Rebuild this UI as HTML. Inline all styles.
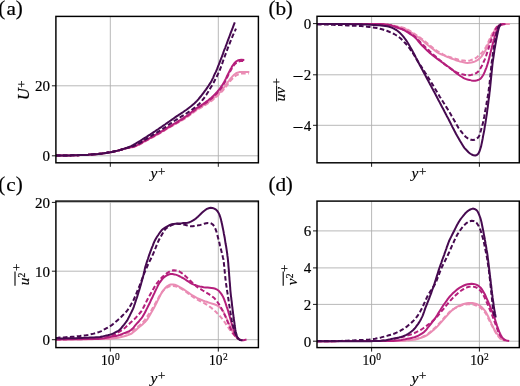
<!DOCTYPE html>
<html><head><meta charset="utf-8"><title>Profiles</title>
<style>
html,body{margin:0;padding:0;background:#fff;}
body{width:520px;height:386px;overflow:hidden;}
svg{display:block;filter:blur(0.3px);}
text{font-family:"Liberation Serif","DejaVu Serif",serif;fill:#000;stroke:#000;stroke-width:0.18px;}
</style></head><body>
<svg width="520" height="386" viewBox="0 0 520 386">
<rect x="0" y="0" width="520" height="386" fill="#fff"/>

<clipPath id="clipa"><rect x="55.9" y="16.4" width="202.5" height="146.4"/></clipPath>
<g stroke="#b0b0b0" stroke-width="0.9"><line x1="110.3" y1="16.4" x2="110.3" y2="162.8"/><line x1="218.3" y1="16.4" x2="218.3" y2="162.8"/><line x1="55.9" y1="155.8" x2="258.4" y2="155.8"/><line x1="55.9" y1="85.8" x2="258.4" y2="85.8"/></g>
<g clip-path="url(#clipa)" fill="none" stroke-width="2.0" stroke-linejoin="round"><path d="M55.9,155.6 57.9,155.6 59.9,155.5 62.0,155.5 64.0,155.5 66.0,155.4 68.0,155.4 70.0,155.4 72.0,155.3 74.1,155.3 76.1,155.2 78.1,155.2 80.1,155.1 82.1,155.0 84.1,154.9 86.2,154.9 88.2,154.8 90.2,154.6 92.2,154.5 94.2,154.3 96.2,154.1 98.2,153.9 100.2,153.7 102.2,153.5 104.2,153.2 106.2,152.9 108.2,152.6 110.2,152.2 112.2,151.9 114.2,151.5 116.1,151.0 118.1,150.6 120.0,150.0 122.0,149.5 123.9,148.9 125.9,148.3 127.8,147.9 129.8,147.5 131.8,147.2 133.7,146.7 135.6,146.1 137.4,145.3 139.2,144.4 141.0,143.4 142.8,142.5 144.5,141.5 146.3,140.5 148.0,139.5 149.8,138.5 151.6,137.5 153.3,136.5 155.1,135.6 156.9,134.6 158.6,133.6 160.4,132.6 162.1,131.5 163.8,130.5 165.5,129.4 167.3,128.4 169.0,127.4 170.8,126.4 172.5,125.4 174.3,124.4 176.0,123.4 177.8,122.3 179.5,121.3 181.2,120.3 182.9,119.2 184.6,118.1 186.3,117.0 188.0,115.9 189.6,114.7 191.2,113.5 192.8,112.2 194.4,111.0 196.1,109.8 197.8,108.8 199.5,107.7 201.2,106.7 203.0,105.7 204.7,104.7 206.4,103.5 208.0,102.4 209.7,101.3 211.3,100.1 212.9,98.8 214.4,97.5 215.9,96.2 217.4,94.8 218.9,93.4 220.3,91.9 221.6,90.4 222.8,88.9 224.1,87.3 225.3,85.6 226.4,84.0 227.6,82.4 228.9,80.8 230.1,79.2 231.4,77.6 232.7,76.1 234.1,74.7 235.7,73.5 237.4,72.7 239.3,72.1 241.3,71.9 243.3,71.9 245.3,71.9 247.3,72.0 249.3,72.1" stroke="#ea8cb4"/><path d="M55.9,155.6 57.9,155.6 59.9,155.5 61.9,155.5 63.9,155.5 65.9,155.4 68.0,155.4 70.0,155.4 72.0,155.3 74.0,155.3 76.0,155.2 78.0,155.2 80.0,155.1 82.0,155.0 84.0,154.9 86.0,154.9 88.0,154.8 90.1,154.6 92.1,154.5 94.1,154.3 96.1,154.2 98.1,154.0 100.1,153.7 102.1,153.5 104.0,153.2 106.0,152.9 108.0,152.6 110.0,152.3 112.0,151.9 113.9,151.5 115.9,151.1 117.9,150.6 119.8,150.1 121.7,149.5 123.7,149.0 125.6,148.4 127.5,148.0 129.5,147.6 131.5,147.3 133.4,146.9 135.3,146.3 137.2,145.6 139.0,144.8 140.8,143.8 142.5,142.9 144.3,141.9 146.1,140.9 147.8,139.9 149.6,139.0 151.3,138.0 153.1,137.1 154.9,136.1 156.6,135.1 158.4,134.1 160.1,133.1 161.9,132.1 163.6,131.1 165.3,130.0 167.0,129.0 168.8,128.0 170.5,127.0 172.3,126.0 174.0,125.0 175.7,124.0 177.5,123.0 179.2,122.0 181.0,121.0 182.7,119.9 184.4,118.9 186.1,117.8 187.7,116.7 189.4,115.5 191.0,114.3 192.6,113.1 194.2,111.9 195.8,110.7 197.5,109.6 199.2,108.6 201.0,107.6 202.7,106.6 204.5,105.6 206.2,104.5 207.8,103.4 209.5,102.3 211.1,101.1 212.7,99.9 214.3,98.7 215.8,97.3 217.3,96.0 218.8,94.6 220.2,93.3 221.6,91.8 223.0,90.3 224.3,88.8 225.5,87.2 226.8,85.6 228.0,84.0 229.2,82.4 230.4,80.9 231.8,79.4 233.1,77.9 234.6,76.6 236.2,75.4 238.0,74.6 239.8,74.0 241.8,73.6 243.8,73.4 245.8,73.4 248.8,73.4" stroke="#ea8cb4" stroke-dasharray="4.6 2.4"/><path d="M55.9,155.6 57.9,155.6 59.9,155.5 61.9,155.5 63.9,155.5 65.9,155.4 68.0,155.4 70.0,155.4 72.0,155.3 74.0,155.3 76.0,155.2 78.0,155.2 80.0,155.1 82.0,155.0 84.0,154.9 86.0,154.9 88.0,154.8 90.0,154.6 92.0,154.5 94.0,154.3 96.0,154.2 98.0,154.0 100.0,153.7 102.0,153.5 104.0,153.2 106.0,152.9 108.0,152.6 110.0,152.3 112.0,151.9 113.9,151.5 115.9,151.1 117.8,150.6 119.8,150.1 121.7,149.5 123.6,149.0 125.6,148.4 127.5,147.9 129.5,147.5 131.4,147.1 133.3,146.6 135.2,145.9 137.1,145.1 138.8,144.2 140.6,143.3 142.3,142.2 144.1,141.2 145.8,140.2 147.6,139.2 149.3,138.3 151.1,137.3 152.8,136.3 154.6,135.3 156.3,134.3 158.1,133.4 159.8,132.3 161.5,131.3 163.3,130.3 165.0,129.2 166.7,128.2 168.4,127.2 170.1,126.1 171.9,125.1 173.6,124.0 175.3,123.0 177.0,122.0 178.7,120.9 180.5,119.9 182.2,118.8 183.8,117.7 185.5,116.6 187.2,115.5 188.8,114.3 190.4,113.0 191.9,111.8 193.5,110.5 195.1,109.3 196.7,108.1 198.4,107.0 200.1,105.9 201.8,104.8 203.4,103.8 205.1,102.6 206.7,101.4 208.3,100.2 209.9,98.9 211.4,97.7 212.9,96.3 214.3,94.9 215.7,93.5 217.1,92.0 218.4,90.5 219.7,88.9 220.8,87.3 222.0,85.6 223.0,83.9 224.0,82.2 225.0,80.4 225.9,78.6 226.7,76.8 227.6,75.0 228.5,73.2 229.4,71.4 230.3,69.6 231.3,67.9 232.3,66.1 233.4,64.5 234.6,62.9 236.0,61.6 237.7,60.5 239.5,59.9 241.4,59.7 244.3,59.9" stroke="#b51f7c"/><path d="M55.9,155.6 57.9,155.6 59.9,155.5 61.9,155.5 63.9,155.5 66.0,155.4 68.0,155.4 70.0,155.4 72.0,155.3 74.0,155.3 76.0,155.2 78.0,155.2 80.0,155.1 82.0,155.0 84.0,154.9 86.1,154.9 88.1,154.8 90.1,154.6 92.1,154.5 94.1,154.3 96.1,154.1 98.1,154.0 100.1,153.7 102.1,153.5 104.1,153.2 106.1,152.9 108.0,152.6 110.0,152.3 112.0,151.9 114.0,151.5 115.9,151.1 117.9,150.6 119.8,150.1 121.8,149.5 123.7,148.9 125.6,148.4 127.6,147.9 129.5,147.5 131.5,147.2 133.4,146.7 135.3,146.0 137.2,145.3 139.0,144.4 140.7,143.4 142.5,142.4 144.2,141.4 146.0,140.4 147.7,139.5 149.5,138.5 151.2,137.5 153.0,136.5 154.8,135.6 156.5,134.6 158.3,133.6 160.0,132.6 161.8,131.6 163.5,130.6 165.2,129.5 166.9,128.5 168.6,127.4 170.4,126.4 172.1,125.4 173.8,124.4 175.6,123.4 177.3,122.4 179.0,121.3 180.8,120.3 182.5,119.2 184.2,118.2 185.9,117.1 187.5,115.9 189.1,114.7 190.7,113.5 192.3,112.2 193.8,111.0 195.5,109.8 197.1,108.6 198.8,107.5 200.5,106.5 202.2,105.4 203.9,104.3 205.5,103.2 207.2,102.0 208.7,100.8 210.3,99.5 211.9,98.2 213.4,96.9 214.8,95.5 216.2,94.1 217.6,92.6 218.9,91.1 220.2,89.5 221.3,87.9 222.5,86.2 223.5,84.5 224.5,82.8 225.4,81.0 226.3,79.2 227.2,77.4 228.0,75.6 228.9,73.8 229.8,72.0 230.8,70.2 231.8,68.4 232.8,66.7 234.0,65.1 235.3,63.6 236.8,62.4 238.5,61.5 240.4,61.0 242.3,60.9 244.3,61.0" stroke="#b51f7c" stroke-dasharray="4.6 2.4"/><path d="M55.9,155.6 57.9,155.6 59.9,155.5 61.9,155.5 63.9,155.5 65.9,155.4 68.0,155.4 70.0,155.4 72.0,155.3 74.0,155.3 76.0,155.2 78.0,155.2 80.0,155.1 82.0,155.0 84.0,154.9 86.0,154.9 88.0,154.8 90.1,154.6 92.1,154.5 94.1,154.3 96.1,154.2 98.1,154.0 100.1,153.7 102.1,153.5 104.0,153.2 106.0,152.9 108.0,152.6 110.0,152.3 112.0,151.9 113.9,151.5 115.9,151.1 117.9,150.6 119.8,150.1 121.7,149.5 123.6,148.9 125.6,148.4 127.5,147.8 129.4,147.2 131.4,146.7 133.3,146.1 135.1,145.3 137.0,144.5 138.7,143.6 140.5,142.6 142.2,141.6 143.9,140.5 145.6,139.4 147.3,138.4 149.0,137.3 150.7,136.3 152.5,135.2 154.2,134.2 155.9,133.2 157.6,132.1 159.3,131.0 161.0,130.0 162.7,128.9 164.4,127.7 166.0,126.6 167.7,125.5 169.3,124.3 171.0,123.2 172.6,122.0 174.3,120.9 176.0,119.9 177.7,118.8 179.4,117.7 181.1,116.7 182.9,115.6 184.6,114.6 186.3,113.5 188.0,112.4 189.6,111.3 191.3,110.2 192.9,109.0 194.5,107.8 196.1,106.6 197.6,105.3 199.1,103.9 200.5,102.5 201.8,101.0 203.0,99.4 204.2,97.8 205.4,96.1 206.5,94.5 207.6,92.8 208.7,91.1 209.7,89.3 210.7,87.6 211.7,85.9 212.7,84.1 213.7,82.4 214.7,80.6 215.6,78.8 216.5,77.1 217.4,75.3 218.3,73.4 219.2,71.6 219.9,69.8 220.6,67.9 221.3,66.0 222.0,64.1 222.7,62.2 223.3,60.3 224.0,58.4 224.7,56.5 225.4,54.6 226.1,52.8 226.8,50.9 227.5,49.0 228.2,47.1 228.9,45.2 229.7,43.4 230.4,41.5 231.2,39.6 231.9,37.8 232.7,35.9 233.5,34.1 234.3,32.3 235.2,30.4 236.0,28.6" stroke="#460a50" stroke-dasharray="4.6 2.4"/><path d="M55.9,155.6 57.9,155.6 59.9,155.5 61.9,155.5 63.9,155.5 65.9,155.4 68.0,155.4 70.0,155.4 72.0,155.3 74.0,155.3 76.0,155.2 78.0,155.2 80.0,155.1 82.0,155.0 84.0,154.9 86.0,154.9 88.0,154.8 90.0,154.6 92.0,154.5 94.0,154.3 96.1,154.2 98.1,154.0 100.0,153.7 102.0,153.5 104.0,153.2 106.0,152.9 108.0,152.6 110.0,152.3 112.0,151.9 113.9,151.5 115.9,151.1 117.8,150.6 119.8,150.1 121.7,149.5 123.6,148.9 125.5,148.3 127.4,147.6 129.3,146.9 131.1,146.1 132.9,145.2 134.7,144.2 136.4,143.2 138.1,142.1 139.8,141.1 141.5,140.0 143.2,138.9 144.9,137.8 146.6,136.8 148.3,135.7 150.0,134.6 151.6,133.5 153.3,132.4 155.0,131.3 156.7,130.1 158.4,129.0 160.0,127.9 161.7,126.8 163.3,125.6 165.0,124.5 166.6,123.3 168.3,122.2 169.9,121.0 171.6,119.9 173.2,118.7 174.8,117.6 176.5,116.4 178.2,115.3 179.9,114.2 181.5,113.1 183.2,112.0 184.9,110.8 186.5,109.7 188.1,108.5 189.7,107.3 191.3,106.0 192.8,104.7 194.3,103.4 195.8,102.0 197.2,100.6 198.5,99.1 199.8,97.5 201.1,96.0 202.3,94.4 203.5,92.8 204.7,91.2 205.9,89.6 207.1,87.9 208.2,86.3 209.3,84.6 210.4,82.9 211.4,81.2 212.3,79.4 213.2,77.6 214.0,75.7 214.8,73.9 215.7,72.1 216.5,70.3 217.3,68.4 218.0,66.5 218.8,64.7 219.5,62.8 220.2,60.9 220.9,59.1 221.7,57.2 222.4,55.3 223.1,53.4 223.7,51.5 224.4,49.6 225.2,47.8 225.9,45.9 226.6,44.0 227.3,42.1 228.0,40.2 228.7,38.3 229.4,36.5 230.1,34.6 230.8,32.7 231.5,30.8 232.3,29.0 233.0,27.1 233.7,25.2 234.8,22.4" stroke="#460a50"/></g>
<g stroke="#000" stroke-width="0.9"><line x1="110.3" y1="162.8" x2="110.3" y2="166.8"/><line x1="218.3" y1="162.8" x2="218.3" y2="166.8"/><line x1="51.9" y1="155.8" x2="55.9" y2="155.8"/><line x1="51.9" y1="85.8" x2="55.9" y2="85.8"/></g>
<rect x="55.9" y="16.4" width="202.5" height="146.4" fill="none" stroke="#000" stroke-width="1.45"/>
<clipPath id="clipb"><rect x="317.0" y="16.3" width="202.3" height="146.5"/></clipPath>
<g stroke="#b0b0b0" stroke-width="0.9"><line x1="371.6" y1="16.3" x2="371.6" y2="162.8"/><line x1="479.4" y1="16.3" x2="479.4" y2="162.8"/><line x1="317.0" y1="23.6" x2="519.3" y2="23.6"/><line x1="317.0" y1="74.8" x2="519.3" y2="74.8"/><line x1="317.0" y1="125.3" x2="519.3" y2="125.3"/></g>
<g clip-path="url(#clipb)" fill="none" stroke-width="2.0" stroke-linejoin="round"><path d="M317.0,24.0 319.0,24.0 321.0,24.0 323.0,24.0 325.0,24.0 327.1,24.0 329.1,24.0 331.1,24.0 333.1,24.0 335.1,24.0 337.1,24.0 339.1,24.0 341.1,24.0 343.1,24.0 345.1,24.0 347.2,24.0 349.2,24.0 351.2,24.0 353.2,24.0 355.2,24.0 357.2,24.0 359.2,24.0 361.2,24.0 363.2,24.0 365.3,24.0 367.3,24.0 369.3,24.0 371.3,24.0 373.3,24.0 375.3,24.0 377.3,24.0 379.3,24.0 381.3,24.2 383.3,24.4 385.3,24.6 387.3,24.8 389.3,25.0 391.3,25.4 393.3,25.8 395.2,26.3 397.2,26.8 399.1,27.3 401.1,27.7 403.0,28.3 404.9,28.8 406.7,29.6 408.4,30.7 410.1,31.8 411.8,32.9 413.4,34.0 415.1,35.2 416.8,36.3 418.4,37.4 420.1,38.6 421.7,39.8 423.2,41.1 424.7,42.4 426.2,43.7 427.8,45.0 429.4,46.2 430.9,47.5 432.5,48.7 434.1,49.9 435.7,51.2 437.3,52.4 439.0,53.3 440.9,54.2 442.7,54.9 444.6,55.7 446.4,56.5 448.3,57.2 450.2,58.0 452.0,58.7 453.9,59.4 455.8,60.2 457.7,60.8 459.6,61.4 461.6,61.8 463.5,62.3 465.5,62.7 467.5,62.9 469.4,62.8 471.4,62.5 473.4,62.1 475.2,61.4 476.9,60.4 478.6,59.3 480.1,58.0 481.4,56.6 482.6,54.9 483.7,53.3 484.8,51.6 485.7,49.8 486.6,48.0 487.4,46.1 488.2,44.3 489.0,42.5 489.8,40.6 490.6,38.8 491.4,36.9 492.3,35.1 493.2,33.3 494.1,31.5 495.1,29.8 496.2,28.1 497.5,26.6 499.0,25.4 500.7,24.5 502.6,24.1 504.6,24.0 506.6,24.0 509.6,24.0" stroke="#ea8cb4"/><path d="M317.0,24.0 319.0,24.0 321.0,24.0 323.0,24.0 325.0,24.0 327.1,24.0 329.1,24.0 331.1,24.0 333.1,24.0 335.1,24.0 337.1,24.0 339.1,24.0 341.1,24.0 343.1,24.0 345.2,24.0 347.2,24.0 349.2,24.0 351.2,24.0 353.2,24.0 355.2,24.0 357.2,24.0 359.2,24.0 361.3,24.0 363.3,24.0 365.3,24.0 367.3,24.0 369.3,24.0 371.3,24.0 373.3,24.0 375.3,24.0 377.3,24.0 379.4,24.0 381.4,24.1 383.4,24.3 385.4,24.5 387.4,24.7 389.4,24.9 391.4,25.2 393.3,25.5 395.3,25.9 397.3,26.4 399.2,26.8 401.2,27.2 403.2,27.7 405.1,28.2 406.9,29.0 408.6,30.0 410.3,31.1 412.0,32.2 413.7,33.3 415.3,34.4 417.0,35.5 418.7,36.7 420.4,37.8 422.0,39.0 423.6,40.2 425.1,41.5 426.7,42.8 428.2,44.1 429.8,45.3 431.3,46.6 432.9,47.9 434.4,49.2 436.1,50.3 437.8,51.4 439.5,52.4 441.3,53.3 443.0,54.3 444.8,55.3 446.6,56.1 448.5,56.7 450.4,57.3 452.4,57.9 454.3,58.5 456.2,59.0 458.2,59.5 460.1,59.9 462.1,60.3 464.1,60.6 466.1,60.9 468.0,60.8 470.0,60.4 471.9,59.8 473.8,59.2 475.5,58.2 477.1,57.0 478.6,55.7 480.2,54.4 481.6,53.0 482.8,51.5 484.0,49.8 485.1,48.2 486.2,46.5 487.1,44.7 488.0,42.9 488.8,41.0 489.6,39.2 490.5,37.4 491.3,35.6 492.2,33.8 493.2,32.0 494.2,30.3 495.4,28.6 496.6,27.1 498.1,25.8 499.7,24.8 501.6,24.2 503.6,24.0 505.6,24.0 507.6,24.0 509.6,24.0" stroke="#ea8cb4" stroke-dasharray="4.6 2.4"/><path d="M317.0,24.0 319.0,24.0 321.0,24.0 323.0,24.0 325.0,24.0 327.1,24.0 329.1,24.0 331.1,24.0 333.1,24.0 335.1,24.0 337.1,24.0 339.1,24.0 341.1,24.0 343.2,24.0 345.2,24.0 347.2,24.0 349.2,24.0 351.2,24.0 353.2,24.0 355.2,24.0 357.2,24.0 359.3,24.0 361.3,24.0 363.3,24.0 365.3,24.0 367.3,24.0 369.3,24.0 371.3,24.0 373.3,24.0 375.3,24.0 377.4,24.0 379.4,24.1 381.4,24.2 383.4,24.4 385.4,24.6 387.4,24.8 389.4,25.1 391.3,25.5 393.2,26.1 395.1,26.8 397.0,27.5 398.9,28.2 400.8,28.9 402.6,29.6 404.5,30.4 406.2,31.4 407.9,32.5 409.6,33.6 411.3,34.7 412.9,35.8 414.5,37.0 415.9,38.4 417.3,39.9 418.6,41.5 419.9,43.0 421.2,44.5 422.6,46.0 424.0,47.4 425.4,48.8 426.9,50.2 428.3,51.6 429.8,52.9 431.4,54.2 432.9,55.5 434.5,56.7 436.1,57.9 437.7,59.2 439.4,60.3 441.0,61.5 442.6,62.7 444.3,63.8 445.9,65.0 447.6,66.2 449.2,67.3 450.8,68.5 452.4,69.8 453.9,71.1 455.5,72.4 457.0,73.6 458.6,74.8 460.3,76.0 462.0,77.0 463.7,78.1 465.5,78.9 467.4,79.5 469.4,79.9 471.3,80.4 473.3,80.7 475.3,80.7 477.2,80.3 479.0,79.6 480.6,78.6 481.8,77.1 482.9,75.5 483.9,73.7 484.7,71.9 485.4,70.0 486.2,68.1 486.9,66.2 487.5,64.3 488.1,62.4 488.6,60.5 489.1,58.5 489.6,56.6 490.0,54.6 490.5,52.7 491.0,50.7 491.5,48.8 492.0,46.8 492.5,44.9 493.0,42.9 493.5,41.0 494.1,39.0 494.6,37.1 495.2,35.2 495.8,33.3 496.5,31.4 497.3,29.5 498.1,27.7 499.3,26.1 500.7,25.0 502.5,24.4 505.5,24.0" stroke="#b51f7c"/><path d="M317.0,24.0 319.0,24.0 321.0,24.0 323.0,24.0 325.0,24.0 327.1,24.0 329.1,24.0 331.1,24.0 333.1,24.0 335.1,24.0 337.1,24.0 339.1,24.0 341.1,24.0 343.2,24.0 345.2,24.0 347.2,24.0 349.2,24.0 351.2,24.0 353.2,24.0 355.2,24.0 357.2,24.0 359.3,24.0 361.3,24.0 363.3,24.0 365.3,24.0 367.3,24.0 369.3,24.0 371.3,24.0 373.3,24.0 375.4,24.0 377.4,24.0 379.4,24.0 381.4,24.2 383.4,24.3 385.4,24.5 387.4,24.7 389.4,24.9 391.4,25.3 393.3,25.9 395.2,26.6 397.1,27.2 399.0,27.9 400.9,28.6 402.7,29.3 404.6,30.1 406.4,31.0 408.1,32.1 409.8,33.1 411.5,34.2 413.2,35.3 414.8,36.5 416.2,37.9 417.6,39.3 419.0,40.8 420.4,42.3 421.8,43.7 423.2,45.1 424.7,46.5 426.1,47.9 427.6,49.2 429.1,50.6 430.5,52.0 432.0,53.3 433.5,54.7 435.0,56.0 436.5,57.4 438.0,58.7 439.6,60.0 441.1,61.3 442.6,62.6 444.2,63.9 445.7,65.2 447.4,66.3 449.0,67.5 450.6,68.7 452.3,69.8 454.0,70.9 455.7,71.9 457.5,72.8 459.4,73.5 461.3,74.1 463.3,74.5 465.2,74.9 467.2,75.2 469.2,75.2 471.1,74.9 473.1,74.4 474.9,73.7 476.7,72.8 478.2,71.6 479.4,70.0 480.5,68.3 481.5,66.6 482.4,64.8 483.2,63.0 484.0,61.1 484.8,59.3 485.5,57.4 486.2,55.5 486.8,53.6 487.5,51.7 488.1,49.8 488.7,47.9 489.4,45.9 490.0,44.0 490.6,42.1 491.2,40.2 491.9,38.3 492.5,36.4 493.2,34.5 493.9,32.6 494.7,30.8 495.7,29.0 496.7,27.3 498.1,25.9 499.7,24.9 501.5,24.3 503.5,24.1 505.5,24.0" stroke="#b51f7c" stroke-dasharray="4.6 2.4"/><path d="M317.0,24.3 319.0,24.4 321.0,24.4 323.0,24.5 325.0,24.5 327.0,24.6 329.0,24.7 331.1,24.7 333.1,24.8 335.1,24.9 337.1,24.9 339.1,25.0 341.1,25.1 343.1,25.2 345.1,25.3 347.1,25.4 349.1,25.5 351.1,25.6 353.1,25.7 355.1,25.8 357.1,25.9 359.1,26.0 361.2,26.1 363.2,26.3 365.2,26.5 367.2,26.7 369.2,26.9 371.1,27.1 373.1,27.4 375.1,27.7 377.1,28.1 379.1,28.5 381.0,29.0 382.9,29.5 384.8,30.2 386.7,30.8 388.6,31.5 390.5,32.3 392.3,33.1 394.1,34.0 395.8,35.0 397.5,36.1 399.1,37.3 400.7,38.5 402.2,39.9 403.6,41.3 404.9,42.8 406.3,44.3 407.6,45.8 408.8,47.4 410.0,49.0 411.1,50.7 412.3,52.3 413.4,54.0 414.5,55.7 415.5,57.4 416.5,59.2 417.5,60.9 418.5,62.6 419.6,64.3 420.8,65.9 421.9,67.6 423.0,69.3 424.1,71.0 425.2,72.7 426.3,74.3 427.4,76.0 428.4,77.7 429.5,79.5 430.5,81.2 431.5,82.9 432.6,84.6 433.6,86.3 434.6,88.1 435.7,89.8 436.7,91.5 437.7,93.2 438.8,95.0 439.8,96.7 440.9,98.4 441.9,100.1 443.0,101.8 444.1,103.5 445.1,105.2 446.2,106.9 447.3,108.6 448.3,110.3 449.4,112.0 450.4,113.7 451.4,115.5 452.4,117.2 453.4,119.0 454.4,120.7 455.4,122.5 456.4,124.2 457.4,126.0 458.4,127.7 459.5,129.3 460.7,130.9 462.0,132.5 463.2,134.1 464.5,135.6 465.9,137.0 467.5,138.1 469.3,139.0 471.1,139.8 472.9,140.1 474.7,139.7 476.4,138.8 478.0,137.6 479.1,136.2 479.8,134.4 480.3,132.4 480.9,130.5 481.4,128.6 482.0,126.6 482.5,124.7 483.0,122.8 483.5,120.8 483.8,118.8 484.2,116.9 484.5,114.9 484.9,112.9 485.2,110.9 485.6,108.9 485.9,107.0 486.3,105.0 486.6,103.0 487.0,101.0 487.3,99.1 487.6,97.1 488.0,95.1 488.3,93.1 488.6,91.1 488.8,89.1 489.1,87.1 489.4,85.1 489.6,83.1 489.8,81.1 490.0,79.1 490.2,77.1 490.4,75.2 490.6,73.2 490.8,71.2 491.0,69.2 491.2,67.2 491.4,65.2 491.6,63.2 491.9,61.2 492.2,59.2 492.4,57.2 492.7,55.2 493.0,53.2 493.3,51.2 493.6,49.2 493.9,47.3 494.2,45.3 494.6,43.3 495.0,41.3 495.4,39.4 495.7,37.4 496.1,35.4 496.5,33.4 497.0,31.5 497.4,29.5 498.0,27.7 498.9,25.9 500.0,24.2" stroke="#460a50" stroke-dasharray="4.6 2.4"/><path d="M317.0,24.0 319.0,24.0 321.0,24.0 323.0,24.0 325.0,24.0 327.0,24.0 329.1,24.1 331.1,24.1 333.1,24.1 335.1,24.1 337.1,24.1 339.1,24.1 341.1,24.1 343.1,24.1 345.1,24.1 347.1,24.1 349.1,24.1 351.1,24.2 353.2,24.2 355.2,24.2 357.2,24.2 359.2,24.2 361.2,24.3 363.2,24.4 365.2,24.5 367.2,24.6 369.2,24.7 371.2,24.8 373.2,24.9 375.2,25.0 377.2,25.2 379.2,25.3 381.2,25.5 383.2,25.8 385.2,26.0 387.2,26.3 389.2,26.7 391.0,27.4 392.9,28.2 394.7,29.1 396.4,30.0 398.0,31.2 399.5,32.5 400.9,33.9 402.3,35.4 403.6,36.9 404.8,38.5 406.0,40.1 407.1,41.8 408.2,43.5 409.2,45.2 410.2,47.0 411.2,48.7 412.2,50.5 413.1,52.2 414.1,54.0 415.0,55.8 415.9,57.6 416.8,59.3 417.8,61.1 418.7,62.9 419.6,64.7 420.6,66.5 421.5,68.2 422.5,70.0 423.4,71.8 424.3,73.6 425.3,75.3 426.2,77.1 427.2,78.9 428.1,80.6 429.1,82.4 430.0,84.2 431.0,85.9 431.9,87.7 432.9,89.5 433.8,91.3 434.8,93.1 435.7,94.8 436.6,96.6 437.6,98.4 438.5,100.2 439.4,101.9 440.4,103.7 441.3,105.5 442.2,107.3 443.2,109.1 444.1,110.8 445.0,112.6 446.0,114.4 446.9,116.2 447.9,117.9 448.8,119.7 449.7,121.5 450.6,123.3 451.5,125.1 452.4,126.9 453.4,128.7 454.3,130.5 455.2,132.2 456.1,134.0 457.1,135.8 458.1,137.5 459.1,139.2 460.1,141.0 461.2,142.7 462.2,144.4 463.2,146.1 464.4,147.8 465.7,149.3 467.1,150.7 468.5,152.2 470.0,153.5 471.7,154.5 473.5,155.3 475.2,155.6 476.8,155.0 478.2,153.8 479.2,152.1 479.9,150.2 480.5,148.3 481.1,146.4 481.5,144.4 481.9,142.5 482.3,140.5 482.7,138.5 483.0,136.5 483.4,134.6 483.8,132.6 484.2,130.6 484.5,128.7 484.8,126.7 485.1,124.7 485.5,122.7 485.8,120.7 486.1,118.7 486.4,116.7 486.7,114.8 487.0,112.8 487.2,110.8 487.5,108.8 487.8,106.8 488.0,104.8 488.3,102.8 488.5,100.8 488.8,98.8 489.1,96.8 489.3,94.8 489.5,92.8 489.8,90.9 490.0,88.9 490.2,86.9 490.4,84.9 490.6,82.9 490.8,80.9 491.0,78.9 491.2,76.9 491.4,74.9 491.6,72.9 491.8,70.9 492.0,68.9 492.2,66.9 492.4,64.9 492.6,62.9 492.9,60.9 493.2,58.9 493.5,56.9 493.8,54.9 494.1,52.9 494.3,50.9 494.6,49.0 495.0,47.0 495.3,45.0 495.7,43.0 496.0,41.0 496.4,39.1 496.8,37.1 497.2,35.1 497.6,33.2 498.0,31.2 498.5,29.3 499.1,27.4 499.9,25.6 500.9,23.8" stroke="#460a50"/></g>
<g stroke="#000" stroke-width="0.9"><line x1="371.6" y1="162.8" x2="371.6" y2="166.8"/><line x1="479.4" y1="162.8" x2="479.4" y2="166.8"/><line x1="313.0" y1="23.6" x2="317.0" y2="23.6"/><line x1="313.0" y1="74.8" x2="317.0" y2="74.8"/><line x1="313.0" y1="125.3" x2="317.0" y2="125.3"/></g>
<rect x="317.0" y="16.3" width="202.3" height="146.5" fill="none" stroke="#000" stroke-width="1.45"/>
<clipPath id="clipc"><rect x="55.9" y="201.1" width="202.5" height="146.5"/></clipPath>
<g stroke="#b0b0b0" stroke-width="0.9"><line x1="110.3" y1="201.1" x2="110.3" y2="347.6"/><line x1="218.3" y1="201.1" x2="218.3" y2="347.6"/><line x1="55.9" y1="339.7" x2="258.4" y2="339.7"/><line x1="55.9" y1="271.2" x2="258.4" y2="271.2"/><line x1="55.9" y1="202.4" x2="258.4" y2="202.4"/></g>
<g clip-path="url(#clipc)" fill="none" stroke-width="2.0" stroke-linejoin="round"><path d="M55.9,339.5 57.9,339.5 59.9,339.5 61.9,339.4 64.0,339.4 66.0,339.4 68.0,339.4 70.0,339.4 72.0,339.4 74.0,339.3 76.1,339.3 78.1,339.3 80.1,339.3 82.1,339.3 84.1,339.2 86.1,339.2 88.2,339.2 90.2,339.2 92.2,339.2 94.2,339.1 96.2,339.1 98.2,339.1 100.3,339.1 102.3,339.1 104.3,339.1 106.3,339.0 108.3,339.0 110.3,338.9 112.3,338.6 114.3,338.3 116.3,338.0 118.3,337.7 120.3,337.3 122.2,336.8 124.2,336.3 126.1,335.7 128.0,335.1 129.9,334.4 131.7,333.5 133.2,332.3 134.8,331.0 136.3,329.7 137.8,328.3 139.3,327.0 140.9,325.7 142.4,324.4 143.9,323.0 145.4,321.7 146.7,320.2 147.8,318.6 148.9,316.8 149.9,315.1 150.9,313.3 151.9,311.6 152.9,309.8 153.9,308.1 154.8,306.3 155.7,304.5 156.6,302.7 157.5,300.9 158.4,299.1 159.3,297.3 160.2,295.5 161.1,293.7 162.1,291.9 163.3,290.3 164.6,288.8 166.0,287.3 167.4,286.0 169.1,285.0 170.9,284.5 172.9,284.4 174.8,284.8 176.6,285.5 178.5,286.4 180.2,287.3 182.0,288.4 183.7,289.4 185.4,290.5 187.0,291.7 188.7,292.8 190.3,294.0 192.0,295.1 193.8,296.1 195.5,297.1 197.3,298.1 199.1,298.9 200.9,299.7 202.8,300.5 204.7,301.2 206.6,301.8 208.5,302.5 210.4,303.1 212.4,303.7 214.3,304.3 216.2,305.0 217.9,305.9 219.5,307.1 221.0,308.4 222.4,309.9 223.4,311.6 224.3,313.4 225.1,315.2 225.9,317.0 226.8,318.9 227.6,320.7 228.4,322.5 229.3,324.4 230.1,326.2 230.9,328.0 231.8,329.9 232.6,331.7 233.6,333.5 234.6,335.2 235.9,336.7 237.4,338.0 240.0,339.3" stroke="#ea8cb4"/><path d="M55.9,339.5 57.9,339.5 59.9,339.5 61.9,339.4 63.9,339.4 66.0,339.4 68.0,339.4 70.0,339.3 72.0,339.3 74.0,339.3 76.0,339.3 78.0,339.2 80.0,339.2 82.1,339.2 84.1,339.2 86.1,339.2 88.1,339.1 90.1,339.1 92.1,339.1 94.1,339.1 96.1,339.0 98.2,339.0 100.2,338.8 102.1,338.6 104.1,338.2 106.1,337.8 108.1,337.4 110.0,337.0 112.0,336.6 114.0,336.2 116.0,335.8 117.9,335.3 119.9,334.9 121.8,334.5 123.8,334.0 125.8,333.6 127.7,333.1 129.6,332.5 131.4,331.6 133.0,330.5 134.6,329.2 136.1,328.0 137.7,326.7 139.3,325.5 140.8,324.2 142.3,322.9 143.7,321.4 144.9,319.8 146.0,318.1 147.2,316.5 148.3,314.8 149.4,313.2 150.6,311.5 151.7,309.8 152.7,308.1 153.7,306.4 154.7,304.6 155.7,302.8 156.7,301.1 157.6,299.3 158.6,297.6 159.6,295.8 160.7,294.1 161.9,292.5 163.1,290.9 164.4,289.4 166.0,288.2 167.7,287.2 169.5,286.4 171.4,285.9 173.3,285.9 175.3,286.2 177.2,286.7 179.0,287.5 180.8,288.5 182.5,289.5 184.2,290.5 185.9,291.7 187.5,292.9 189.1,294.1 190.7,295.3 192.3,296.4 194.0,297.6 195.7,298.7 197.4,299.7 199.2,300.6 201.0,301.5 202.8,302.4 204.6,303.3 206.3,304.4 208.0,305.5 209.6,306.6 211.2,307.8 212.8,309.1 214.3,310.5 215.8,311.8 217.2,313.2 218.6,314.7 219.9,316.2 221.2,317.7 222.5,319.3 223.7,320.8 224.9,322.5 226.0,324.1 227.1,325.8 228.3,327.5 229.4,329.2 230.6,330.8 231.8,332.4 233.1,333.9 234.4,335.4 235.8,336.9 237.4,338.1 239.0,339.3" stroke="#ea8cb4" stroke-dasharray="4.6 2.4"/><path d="M55.9,339.4 57.9,339.4 59.9,339.4 61.9,339.3 64.0,339.3 66.0,339.3 68.0,339.3 70.0,339.3 72.0,339.3 74.0,339.2 76.0,339.2 78.1,339.2 80.1,339.2 82.1,339.2 84.1,339.1 86.1,339.1 88.1,339.1 90.1,339.1 92.1,339.1 94.2,339.1 96.2,339.0 98.2,339.0 100.2,338.8 102.2,338.6 104.2,338.2 106.1,337.8 108.1,337.4 110.1,337.0 112.1,336.6 114.0,336.3 116.0,335.9 118.0,335.5 119.9,334.9 121.8,334.2 123.6,333.4 125.5,332.7 127.4,331.9 129.2,331.1 130.9,330.1 132.4,328.8 133.7,327.3 135.0,325.7 136.3,324.2 137.6,322.7 139.0,321.2 140.3,319.6 141.6,318.1 142.7,316.5 143.7,314.7 144.7,313.0 145.6,311.2 146.5,309.4 147.4,307.6 148.3,305.8 149.2,304.0 150.1,302.2 150.9,300.3 151.8,298.5 152.7,296.7 153.5,294.9 154.4,293.1 155.2,291.2 156.1,289.4 157.0,287.6 157.8,285.8 158.8,284.0 159.9,282.3 161.1,280.7 162.3,279.1 163.6,277.6 165.2,276.4 166.9,275.4 168.6,274.5 170.5,274.1 172.5,274.1 174.4,274.4 176.4,274.9 178.2,275.6 180.0,276.5 181.8,277.5 183.6,278.4 185.3,279.5 186.9,280.6 188.6,281.7 190.3,282.8 192.0,283.8 193.9,284.6 195.7,285.3 197.7,285.9 199.6,286.4 201.6,286.8 203.6,287.2 205.5,287.4 207.6,287.5 209.6,287.7 211.6,287.9 213.5,288.2 215.4,288.8 217.2,289.7 218.8,290.8 220.1,292.3 221.3,293.9 222.4,295.6 223.3,297.3 224.1,299.2 224.8,301.1 225.5,303.0 226.1,304.9 226.7,306.8 227.4,308.7 228.0,310.6 228.5,312.5 229.1,314.5 229.7,316.4 230.2,318.3 230.8,320.3 231.3,322.2 231.9,324.2 232.5,326.1 233.1,328.0 233.7,329.9 234.3,331.8 235.0,333.7 235.8,335.5 236.9,337.2 238.2,338.6 239.8,339.7 241.6,340.2 243.6,340.2 246.5,339.6" stroke="#b51f7c"/><path d="M55.9,339.3 57.9,339.3 59.9,339.2 61.9,339.2 64.0,339.2 66.0,339.2 68.0,339.1 70.0,339.1 72.0,339.1 74.0,339.0 76.1,339.0 78.1,339.0 80.1,338.9 82.1,338.9 84.1,338.9 86.1,338.9 88.1,338.8 90.2,338.7 92.2,338.6 94.2,338.4 96.2,338.3 98.2,338.1 100.2,337.9 102.2,337.7 104.2,337.5 106.2,337.2 108.2,336.8 110.1,336.4 112.0,335.7 113.8,334.8 115.5,333.8 117.3,332.8 119.0,331.8 120.8,330.8 122.5,329.7 124.1,328.5 125.6,327.2 127.1,325.8 128.6,324.5 130.1,323.1 131.5,321.8 133.0,320.4 134.5,319.0 135.9,317.6 137.2,316.1 138.6,314.6 139.9,313.0 141.2,311.5 142.3,309.8 143.2,308.0 144.1,306.2 145.0,304.4 145.9,302.6 146.8,300.8 147.7,299.0 148.6,297.2 149.6,295.5 150.6,293.7 151.6,292.0 152.6,290.2 153.6,288.5 154.6,286.7 155.6,285.0 156.8,283.4 158.1,281.8 159.4,280.3 160.7,278.8 162.1,277.3 163.5,275.9 165.0,274.6 166.7,273.4 168.3,272.3 170.0,271.3 171.8,270.6 173.8,270.3 175.7,270.4 177.7,270.7 179.4,271.5 181.1,272.6 182.7,273.8 184.3,275.1 185.8,276.4 187.2,277.8 188.7,279.2 190.1,280.6 191.6,282.0 193.1,283.4 194.6,284.7 196.1,286.1 197.6,287.3 199.3,288.4 201.1,289.4 202.8,290.5 204.5,291.5 206.2,292.5 208.0,293.6 209.7,294.7 211.3,295.8 212.9,297.0 214.5,298.3 215.8,299.8 217.0,301.4 218.1,303.0 219.3,304.7 220.3,306.4 221.3,308.2 222.2,310.0 223.1,311.8 224.0,313.6 224.9,315.4 225.8,317.2 226.6,319.1 227.3,320.9 228.1,322.8 228.9,324.6 229.7,326.5 230.5,328.4 231.3,330.2 232.3,331.9 233.4,333.6 234.6,335.2 235.9,336.8 237.4,338.0 239.0,339.2" stroke="#b51f7c" stroke-dasharray="4.6 2.4"/><path d="M55.9,337.9 57.9,337.8 59.9,337.6 61.9,337.5 63.9,337.4 65.9,337.2 67.9,337.1 69.9,337.0 71.9,336.8 73.9,336.7 75.9,336.5 77.9,336.2 79.9,336.0 81.9,335.7 83.9,335.4 85.9,335.2 87.9,334.9 89.9,334.5 91.8,334.1 93.8,333.6 95.7,333.1 97.6,332.5 99.5,331.9 101.4,331.1 103.1,330.1 104.9,329.1 106.6,328.2 108.4,327.2 110.1,326.2 111.8,325.1 113.4,323.8 114.9,322.5 116.4,321.2 117.9,319.9 119.4,318.6 120.9,317.2 122.3,315.8 123.7,314.4 125.2,312.9 126.5,311.5 127.7,309.9 128.8,308.2 129.9,306.5 130.9,304.8 131.9,303.0 132.9,301.3 133.8,299.5 134.6,297.6 135.4,295.8 136.2,293.9 136.9,292.1 137.7,290.2 138.5,288.4 139.3,286.5 140.0,284.6 140.7,282.8 141.4,280.9 142.1,279.0 142.8,277.1 143.5,275.2 144.2,273.4 145.0,271.5 145.8,269.6 146.6,267.8 147.4,266.0 148.2,264.2 149.1,262.3 150.0,260.5 150.9,258.7 151.8,256.9 152.6,255.1 153.4,253.3 154.2,251.4 154.9,249.6 155.7,247.7 156.4,245.8 157.1,243.9 157.9,242.1 158.8,240.3 159.7,238.5 160.7,236.8 161.7,235.0 162.7,233.3 163.7,231.5 164.8,229.9 166.1,228.4 167.7,227.3 169.4,226.3 171.2,225.4 173.0,224.5 174.8,223.9 176.8,223.8 178.8,223.9 180.8,224.1 182.7,224.4 184.7,224.8 186.6,225.3 188.6,225.9 190.5,226.2 192.5,226.2 194.4,225.9 196.4,225.6 198.4,225.3 200.4,224.9 202.3,224.4 204.2,223.8 206.2,223.3 208.1,222.9 210.0,223.0 211.7,223.7 213.2,224.9 214.3,226.5 215.2,228.3 215.9,230.2 216.6,232.1 217.1,234.0 217.6,235.9 218.1,237.9 218.6,239.8 219.1,241.8 219.6,243.7 220.0,245.7 220.5,247.6 221.0,249.6 221.5,251.5 222.0,253.5 222.5,255.4 222.9,257.4 223.4,259.3 223.7,261.3 223.9,263.3 224.1,265.3 224.3,267.3 224.5,269.3 224.7,271.3 224.9,273.3 225.1,275.3 225.3,277.3 225.5,279.3 225.8,281.3 226.0,283.3 226.3,285.3 226.6,287.3 226.9,289.3 227.2,291.3 227.5,293.2 227.8,295.2 228.1,297.2 228.4,299.2 228.7,301.2 229.0,303.2 229.3,305.2 229.6,307.1 230.0,309.1 230.3,311.1 230.6,313.1 230.9,315.1 231.3,317.1 231.6,319.0 231.9,321.0 232.3,323.0 232.8,324.9 233.3,326.9 233.9,328.8 234.5,330.7 235.1,332.6 235.8,334.5 236.6,336.3 238.0,339.0" stroke="#460a50" stroke-dasharray="4.6 2.4"/><path d="M55.9,338.5 57.9,338.5 59.9,338.4 61.9,338.4 63.9,338.4 65.9,338.3 67.9,338.3 69.9,338.3 72.0,338.2 74.0,338.2 76.0,338.2 78.0,338.1 80.0,338.0 82.0,337.9 84.0,337.8 86.0,337.8 88.0,337.7 90.0,337.6 92.0,337.5 94.0,337.4 96.0,337.3 98.0,337.2 100.0,337.0 102.0,336.6 103.9,336.1 105.9,335.6 107.8,335.2 109.7,334.7 111.6,334.1 113.5,333.3 115.3,332.4 117.1,331.5 118.8,330.5 120.2,329.2 121.6,327.7 122.8,326.1 124.1,324.6 125.3,323.0 126.5,321.4 127.6,319.7 128.5,317.9 129.4,316.2 130.3,314.4 131.2,312.6 132.1,310.8 133.0,308.9 133.7,307.1 134.3,305.2 135.0,303.3 135.6,301.4 136.2,299.5 136.9,297.6 137.5,295.7 138.1,293.8 138.7,291.8 139.3,289.9 139.9,288.0 140.4,286.1 141.0,284.1 141.5,282.2 142.1,280.3 142.6,278.3 143.1,276.4 143.6,274.5 144.0,272.5 144.5,270.5 144.9,268.6 145.4,266.6 146.0,264.7 146.6,262.8 147.2,260.9 147.9,259.0 148.5,257.1 149.1,255.2 149.8,253.3 150.5,251.4 151.2,249.6 151.9,247.7 152.7,245.8 153.4,243.9 154.1,242.1 155.0,240.3 156.0,238.5 157.0,236.8 158.1,235.2 159.2,233.5 160.4,231.8 161.6,230.3 163.0,229.0 164.7,227.9 166.4,226.9 168.2,225.9 169.9,225.0 171.8,224.3 173.7,224.0 175.7,223.8 177.7,223.6 179.7,223.4 181.7,223.3 183.7,223.1 185.7,223.0 187.7,222.7 189.6,222.2 191.4,221.3 193.1,220.4 194.8,219.3 196.4,218.1 197.9,216.8 199.3,215.4 200.7,214.0 202.2,212.6 203.7,211.3 205.3,210.0 206.9,208.9 208.7,208.2 210.6,207.8 212.5,208.0 214.3,208.6 216.0,209.6 217.3,211.0 218.4,212.6 219.3,214.4 220.0,216.3 220.6,218.2 221.1,220.1 221.5,222.1 222.0,224.0 222.4,226.0 222.8,228.0 223.2,229.9 223.6,231.9 223.9,233.9 224.3,235.8 224.7,237.8 225.0,239.8 225.3,241.8 225.6,243.8 226.0,245.7 226.3,247.7 226.6,249.7 226.9,251.7 227.2,253.7 227.4,255.7 227.7,257.6 227.9,259.6 228.1,261.6 228.3,263.6 228.4,265.6 228.6,267.6 228.8,269.6 228.9,271.6 229.1,273.6 229.2,275.6 229.4,277.6 229.5,279.6 229.7,281.6 229.9,283.6 230.0,285.6 230.2,287.6 230.3,289.6 230.5,291.6 230.7,293.6 230.9,295.6 231.2,297.6 231.4,299.6 231.7,301.6 231.9,303.6 232.1,305.6 232.4,307.6 232.6,309.6 232.9,311.6 233.1,313.6 233.4,315.5 233.6,317.5 233.9,319.5 234.2,321.5 234.5,323.5 234.7,325.5 235.0,327.5 235.3,329.5 235.7,331.4 236.2,333.4 236.7,335.3 237.4,337.2 238.3,338.8 239.8,339.9 242.5,340.3" stroke="#460a50"/></g>
<g stroke="#000" stroke-width="0.9"><line x1="110.3" y1="347.6" x2="110.3" y2="351.6"/><line x1="218.3" y1="347.6" x2="218.3" y2="351.6"/><line x1="51.9" y1="339.7" x2="55.9" y2="339.7"/><line x1="51.9" y1="271.2" x2="55.9" y2="271.2"/><line x1="51.9" y1="202.4" x2="55.9" y2="202.4"/></g>
<rect x="55.9" y="201.1" width="202.5" height="146.5" fill="none" stroke="#000" stroke-width="1.45"/>
<clipPath id="clipd"><rect x="317.0" y="201.1" width="202.3" height="146.5"/></clipPath>
<g stroke="#b0b0b0" stroke-width="0.9"><line x1="371.6" y1="201.1" x2="371.6" y2="347.6"/><line x1="479.4" y1="201.1" x2="479.4" y2="347.6"/><line x1="317.0" y1="341.2" x2="519.3" y2="341.2"/><line x1="317.0" y1="304.4" x2="519.3" y2="304.4"/><line x1="317.0" y1="267.9" x2="519.3" y2="267.9"/><line x1="317.0" y1="230.9" x2="519.3" y2="230.9"/></g>
<g clip-path="url(#clipd)" fill="none" stroke-width="2.0" stroke-linejoin="round"><path d="M317.0,341.2 319.0,341.2 321.0,341.2 323.0,341.2 325.0,341.2 327.1,341.2 329.1,341.2 331.1,341.2 333.1,341.2 335.1,341.2 337.1,341.2 339.1,341.1 341.1,341.1 343.1,341.1 345.2,341.1 347.2,341.1 349.2,341.1 351.2,341.1 353.2,341.1 355.2,341.1 357.2,341.1 359.2,341.1 361.2,341.1 363.3,341.1 365.3,341.1 367.3,341.1 369.3,341.1 371.3,341.1 373.3,341.1 375.3,341.1 377.3,341.1 379.3,341.0 381.4,341.0 383.4,341.0 385.4,341.0 387.4,341.0 389.4,341.0 391.4,341.0 393.4,341.0 395.4,341.0 397.4,341.0 399.5,340.9 401.5,340.8 403.5,340.7 405.5,340.5 407.5,340.3 409.5,340.2 411.5,340.0 413.5,339.8 415.4,339.4 417.4,339.0 419.3,338.4 421.2,337.7 423.1,337.1 424.9,336.3 426.7,335.4 428.3,334.2 429.9,333.0 431.4,331.7 432.9,330.4 434.5,329.1 436.0,327.8 437.4,326.4 438.8,324.9 440.1,323.4 441.5,321.9 442.8,320.4 444.1,318.9 445.4,317.4 446.8,315.8 448.1,314.3 449.5,312.8 450.8,311.4 452.3,310.1 453.9,308.9 455.6,307.8 457.3,306.7 459.1,305.8 460.9,305.0 462.8,304.3 464.7,303.7 466.7,303.3 468.6,303.0 470.6,302.9 472.6,303.0 474.6,303.4 476.5,304.0 478.3,304.8 480.0,305.8 481.5,307.0 482.9,308.4 484.2,309.9 485.5,311.5 486.5,313.2 487.4,314.9 488.3,316.8 489.2,318.6 490.0,320.4 490.9,322.2 491.7,324.1 492.6,325.9 493.4,327.7 494.3,329.5 495.3,331.2 496.4,332.9 497.6,334.5 498.8,336.1 500.1,337.6 501.5,338.9 503.2,339.9 505.0,340.8" stroke="#ea8cb4"/><path d="M317.0,341.2 319.0,341.2 321.0,341.2 323.0,341.2 325.1,341.2 327.1,341.2 329.1,341.2 331.1,341.2 333.1,341.2 335.1,341.2 337.1,341.2 339.2,341.1 341.2,341.1 343.2,341.1 345.2,341.1 347.2,341.1 349.2,341.1 351.3,341.1 353.3,341.1 355.3,341.1 357.3,341.1 359.3,341.1 361.3,341.1 363.3,341.1 365.4,341.1 367.4,341.1 369.4,341.1 371.4,341.1 373.4,341.1 375.4,341.1 377.4,341.1 379.5,341.0 381.5,341.0 383.5,341.0 385.5,341.0 387.5,341.0 389.5,341.0 391.6,341.0 393.6,341.0 395.6,341.0 397.6,341.0 399.6,340.9 401.6,340.8 403.6,340.6 405.6,340.4 407.6,340.2 409.6,340.0 411.6,339.7 413.6,339.5 415.6,339.1 417.5,338.6 419.4,337.9 421.3,337.2 423.2,336.5 425.0,335.7 426.7,334.7 428.3,333.5 429.9,332.2 431.4,330.9 432.9,329.6 434.4,328.2 435.9,326.9 437.3,325.5 438.7,324.0 440.1,322.5 441.4,321.0 442.7,319.5 444.0,318.0 445.4,316.4 446.7,314.9 448.1,313.5 449.5,312.0 451.0,310.7 452.5,309.5 454.3,308.5 456.0,307.5 457.9,306.7 459.7,306.0 461.6,305.3 463.6,304.8 465.5,304.4 467.5,304.2 469.5,304.2 471.5,304.3 473.5,304.6 475.4,305.2 477.3,305.9 479.0,306.8 480.7,307.9 482.1,309.3 483.5,310.7 484.8,312.2 486.0,313.8 487.0,315.6 487.8,317.4 488.7,319.2 489.6,321.0 490.5,322.8 491.4,324.6 492.3,326.4 493.2,328.2 494.2,330.0 495.2,331.7 496.2,333.4 497.4,335.1 498.5,336.7 499.8,338.2 501.3,339.5 503.0,340.5" stroke="#ea8cb4" stroke-dasharray="4.6 2.4"/><path d="M317.0,341.2 319.0,341.2 321.0,341.2 323.0,341.2 325.0,341.2 327.1,341.2 329.1,341.2 331.1,341.2 333.1,341.2 335.1,341.2 337.1,341.1 339.1,341.1 341.1,341.1 343.2,341.1 345.2,341.1 347.2,341.1 349.2,341.1 351.2,341.1 353.2,341.1 355.2,341.1 357.2,341.1 359.2,341.1 361.3,341.1 363.3,341.1 365.3,341.1 367.3,341.1 369.3,341.1 371.3,341.1 373.3,341.1 375.3,341.1 377.3,341.0 379.4,341.0 381.4,341.0 383.4,341.0 385.4,341.0 387.4,341.0 389.4,341.0 391.4,341.0 393.4,341.0 395.4,340.8 397.4,340.6 399.4,340.2 401.4,339.9 403.4,339.5 405.4,339.2 407.3,338.8 409.3,338.4 411.3,338.0 413.2,337.6 415.1,337.0 417.0,336.3 418.8,335.4 420.5,334.4 422.2,333.4 423.8,332.2 425.3,330.8 426.6,329.3 427.8,327.7 429.1,326.2 430.3,324.6 431.6,323.0 432.8,321.4 434.0,319.8 435.2,318.2 436.3,316.5 437.4,314.8 438.4,313.1 439.5,311.4 440.5,309.7 441.6,308.0 442.7,306.3 443.8,304.6 445.0,303.0 446.2,301.4 447.3,299.7 448.5,298.1 449.8,296.5 451.1,295.1 452.5,293.6 454.0,292.2 455.5,290.9 457.0,289.6 458.7,288.4 460.3,287.3 462.1,286.3 463.9,285.5 465.7,284.8 467.7,284.2 469.6,283.9 471.6,283.7 473.5,283.9 475.5,284.4 477.3,285.2 478.9,286.2 480.4,287.5 481.7,289.0 482.8,290.7 483.8,292.4 484.8,294.2 485.6,296.0 486.4,297.8 487.2,299.7 488.0,301.5 488.8,303.4 489.6,305.2 490.4,307.1 491.1,308.9 491.9,310.8 492.7,312.6 493.4,314.5 494.1,316.4 494.7,318.3 495.3,320.2 495.9,322.2 496.5,324.1 497.1,326.0 497.8,327.9 498.5,329.8 499.2,331.7 500.0,333.5 500.9,335.3 501.9,337.0 503.1,338.5 504.5,339.7 506.3,340.5 509.2,341.0" stroke="#b51f7c"/><path d="M317.0,341.2 319.0,341.2 321.0,341.2 323.0,341.2 325.1,341.2 327.1,341.2 329.1,341.2 331.1,341.2 333.1,341.1 335.1,341.1 337.1,341.1 339.1,341.1 341.2,341.1 343.2,341.1 345.2,341.1 347.2,341.1 349.2,341.1 351.2,341.1 353.2,341.1 355.2,341.1 357.3,341.1 359.3,341.1 361.3,341.1 363.3,341.1 365.3,341.0 367.3,341.0 369.3,341.0 371.3,341.0 373.4,341.0 375.4,341.0 377.4,341.0 379.4,340.9 381.4,340.8 383.4,340.5 385.4,340.3 387.4,340.0 389.4,339.8 391.4,339.5 393.3,339.2 395.3,338.8 397.3,338.3 399.2,337.8 401.2,337.3 403.1,336.7 405.0,336.2 407.0,335.6 408.9,335.1 410.8,334.5 412.7,333.8 414.5,333.0 416.4,332.1 418.2,331.2 419.9,330.3 421.7,329.3 423.3,328.2 425.0,327.0 426.6,325.8 428.2,324.6 429.8,323.4 431.4,322.1 432.9,320.8 434.4,319.4 435.7,318.0 437.1,316.5 438.4,315.0 439.7,313.4 441.0,311.9 442.3,310.3 443.6,308.8 444.8,307.2 446.1,305.7 447.4,304.1 448.7,302.6 450.0,301.1 451.3,299.6 452.7,298.1 454.1,296.7 455.6,295.3 457.1,293.9 458.6,292.6 460.2,291.3 461.8,290.2 463.5,289.1 465.2,288.1 467.0,287.4 468.9,286.8 470.9,286.6 472.9,286.6 474.8,287.0 476.6,287.6 478.3,288.6 479.7,289.9 481.0,291.4 482.2,293.1 483.2,294.8 484.2,296.5 485.0,298.4 485.8,300.2 486.6,302.1 487.4,303.9 488.2,305.8 489.0,307.6 489.8,309.5 490.6,311.3 491.3,313.2 492.1,315.0 492.8,316.9 493.5,318.8 494.2,320.7 494.9,322.6 495.6,324.5 496.3,326.4 497.0,328.3 497.6,330.1 498.4,332.0 499.2,333.8 500.2,335.6 501.4,337.2 502.7,338.6 505.0,340.5" stroke="#b51f7c" stroke-dasharray="4.6 2.4"/><path d="M317.0,341.0 319.0,341.0 321.0,341.0 323.0,341.0 325.0,341.0 327.1,341.0 329.1,341.0 331.1,341.0 333.1,341.0 335.1,341.0 337.1,341.0 339.1,341.0 341.1,340.9 343.2,340.8 345.2,340.8 347.2,340.7 349.2,340.6 351.2,340.5 353.2,340.4 355.2,340.3 357.2,340.2 359.2,340.1 361.2,340.0 363.3,339.9 365.3,339.8 367.3,339.7 369.3,339.6 371.3,339.4 373.3,339.1 375.2,338.7 377.2,338.2 379.2,337.8 381.1,337.4 383.1,336.9 385.0,336.4 387.0,335.9 388.9,335.3 390.8,334.7 392.7,334.1 394.6,333.5 396.5,332.7 398.3,331.8 400.1,330.9 401.8,329.9 403.5,328.9 405.2,327.8 406.8,326.6 408.4,325.3 410.0,324.0 411.4,322.7 412.9,321.3 414.3,319.9 415.6,318.3 416.8,316.8 418.0,315.1 419.1,313.4 420.1,311.7 421.0,309.9 422.0,308.1 422.8,306.3 423.7,304.5 424.5,302.7 425.4,300.8 426.2,299.0 427.0,297.2 427.9,295.4 428.9,293.7 430.0,291.9 431.1,290.3 432.2,288.6 433.3,286.9 434.4,285.2 435.3,283.4 436.2,281.6 436.9,279.8 437.6,277.9 438.4,276.0 439.1,274.1 439.8,272.2 440.5,270.4 441.3,268.5 442.1,266.7 443.0,264.9 443.9,263.1 444.8,261.3 445.7,259.5 446.6,257.7 447.5,255.9 448.3,254.0 449.2,252.2 450.0,250.4 450.8,248.5 451.6,246.7 452.4,244.9 453.3,243.0 454.1,241.2 454.9,239.4 455.8,237.5 456.7,235.8 457.7,234.0 458.8,232.3 459.9,230.6 461.1,229.0 462.3,227.4 463.6,225.9 465.0,224.4 466.5,223.1 468.1,222.0 469.8,221.2 471.7,220.8 473.5,220.9 475.2,221.7 476.6,222.9 477.7,224.5 478.8,226.2 479.7,228.0 480.4,229.8 481.0,231.7 481.6,233.7 482.1,235.6 482.7,237.5 483.2,239.5 483.7,241.4 484.1,243.4 484.5,245.4 484.9,247.3 485.3,249.3 485.7,251.3 486.1,253.3 486.5,255.2 486.9,257.2 487.2,259.2 487.5,261.2 487.8,263.2 488.1,265.1 488.4,267.1 488.7,269.1 489.0,271.1 489.2,273.1 489.4,275.1 489.6,277.1 489.9,279.1 490.1,281.1 490.3,283.1 490.5,285.1 490.7,287.1 490.9,289.1 491.1,291.1 491.3,293.1 491.6,295.1 491.8,297.1 492.0,299.1 492.2,301.1 492.4,303.1 492.6,305.1 492.9,307.1 493.1,309.1 493.3,311.1 493.7,313.1 494.1,315.1 494.8,318.0" stroke="#460a50" stroke-dasharray="4.6 2.4"/><path d="M317.0,341.2 319.0,341.2 321.0,341.2 323.0,341.2 325.0,341.2 327.0,341.2 329.0,341.2 331.0,341.2 333.1,341.2 335.1,341.2 337.1,341.2 339.1,341.2 341.1,341.2 343.1,341.2 345.1,341.2 347.1,341.2 349.1,341.2 351.1,341.2 353.1,341.2 355.1,341.2 357.1,341.2 359.1,341.2 361.2,341.2 363.2,341.2 365.2,341.2 367.2,341.2 369.2,341.2 371.2,341.2 373.2,341.1 375.2,341.0 377.2,340.9 379.2,340.9 381.2,340.8 383.2,340.6 385.2,340.4 387.2,340.0 389.1,339.6 391.1,339.1 393.0,338.7 395.0,338.3 397.0,337.9 398.9,337.5 400.9,337.0 402.8,336.4 404.6,335.6 406.4,334.8 408.2,333.8 409.8,332.7 411.4,331.5 413.0,330.2 414.4,328.8 415.6,327.3 416.8,325.7 418.0,324.1 419.1,322.4 420.1,320.7 421.1,318.9 422.0,317.1 422.8,315.3 423.5,313.4 424.2,311.5 424.8,309.6 425.5,307.7 426.2,305.9 427.0,304.0 427.7,302.1 428.4,300.3 429.2,298.4 429.9,296.5 430.6,294.6 431.3,292.8 431.9,290.9 432.6,289.0 433.3,287.1 434.0,285.2 434.6,283.3 435.2,281.4 435.8,279.5 436.4,277.6 437.0,275.6 437.6,273.7 438.2,271.8 438.8,269.9 439.4,268.0 440.1,266.1 440.8,264.2 441.5,262.3 442.1,260.4 442.8,258.5 443.5,256.6 444.2,254.8 444.8,252.9 445.5,251.0 446.2,249.1 446.8,247.2 447.5,245.3 448.2,243.4 448.9,241.5 449.7,239.7 450.6,237.9 451.5,236.1 452.4,234.3 453.3,232.5 454.2,230.7 455.1,228.9 456.0,227.1 456.9,225.3 457.9,223.6 458.9,221.8 459.9,220.2 461.1,218.5 462.3,217.0 463.6,215.4 464.9,213.8 466.2,212.4 467.7,211.1 469.3,210.0 471.1,209.1 472.8,208.6 474.5,208.9 476.1,209.8 477.4,211.1 478.3,212.8 479.1,214.6 479.8,216.5 480.5,218.4 481.0,220.3 481.5,222.3 481.9,224.2 482.3,226.2 482.7,228.2 483.1,230.1 483.5,232.1 483.8,234.1 484.2,236.0 484.6,238.0 484.9,240.0 485.3,242.0 485.6,243.9 486.0,245.9 486.3,247.9 486.6,249.9 487.0,251.9 487.3,253.8 487.6,255.8 487.8,257.8 488.1,259.8 488.3,261.8 488.6,263.8 488.8,265.8 489.0,267.8 489.3,269.8 489.5,271.8 489.7,273.8 490.0,275.7 490.2,277.7 490.5,279.7 490.7,281.7 490.9,283.7 491.2,285.7 491.4,287.7 491.6,289.7 491.9,291.7 492.1,293.7 492.4,295.7 492.6,297.7 492.9,299.7 493.2,301.6 493.5,303.6 493.7,305.6 494.0,307.6 494.3,309.6 494.7,311.6 495.0,313.5 495.4,315.5 495.7,317.5" stroke="#460a50"/></g>
<g stroke="#000" stroke-width="0.9"><line x1="371.6" y1="347.6" x2="371.6" y2="351.6"/><line x1="479.4" y1="347.6" x2="479.4" y2="351.6"/><line x1="313.0" y1="341.2" x2="317.0" y2="341.2"/><line x1="313.0" y1="304.4" x2="317.0" y2="304.4"/><line x1="313.0" y1="267.9" x2="317.0" y2="267.9"/><line x1="313.0" y1="230.9" x2="317.0" y2="230.9"/></g>
<rect x="317.0" y="201.1" width="202.3" height="146.5" fill="none" stroke="#000" stroke-width="1.45"/>
<text x="50.1" y="161.1" font-size="15.0" text-anchor="end">0</text>
<text x="50.1" y="91.1" font-size="15.0" text-anchor="end">20</text>
<text x="311.2" y="28.9" font-size="15.0" text-anchor="end">0</text>
<text x="311.2" y="80.1" font-size="15.0" text-anchor="end"><tspan font-size="19.6" dy="3.1">−</tspan><tspan dx="0.2" dy="-3.1">2</tspan></text>
<text x="311.2" y="130.6" font-size="15.0" text-anchor="end"><tspan font-size="19.6" dy="3.1">−</tspan><tspan dx="0.2" dy="-3.1">4</tspan></text>
<text x="50.1" y="345.0" font-size="15.0" text-anchor="end">0</text>
<text x="50.1" y="276.5" font-size="15.0" text-anchor="end">10</text>
<text x="50.1" y="207.7" font-size="15.0" text-anchor="end">20</text>
<text x="311.2" y="346.5" font-size="15.0" text-anchor="end">0</text>
<text x="311.2" y="309.7" font-size="15.0" text-anchor="end">2</text>
<text x="311.2" y="273.2" font-size="15.0" text-anchor="end">4</text>
<text x="311.2" y="236.2" font-size="15.0" text-anchor="end">6</text>
<text transform="translate(101.1,364.8) scale(0.9,1)" font-size="15">10<tspan font-size="10.5" dx="0.4" dy="-4.8">0</tspan></text>
<text transform="translate(209.1,364.8) scale(0.9,1)" font-size="15">10<tspan font-size="10.5" dx="0.4" dy="-4.8">2</tspan></text>
<text transform="translate(362.4,364.8) scale(0.9,1)" font-size="15">10<tspan font-size="10.5" dx="0.4" dy="-4.8">0</tspan></text>
<text transform="translate(470.2,364.8) scale(0.9,1)" font-size="15">10<tspan font-size="10.5" dx="0.4" dy="-4.8">2</tspan></text>
<text x="150.5" y="178.3" font-size="15.5" font-style="italic">y<tspan font-style="normal" font-size="13" dx="0.6" dy="-2.8">+</tspan></text>
<text x="411.5" y="178.3" font-size="15.5" font-style="italic">y<tspan font-style="normal" font-size="13" dx="0.6" dy="-2.8">+</tspan></text>
<text x="150.5" y="382.9" font-size="15.5" font-style="italic">y<tspan font-style="normal" font-size="13" dx="0.6" dy="-2.8">+</tspan></text>
<text x="411.5" y="382.9" font-size="15.5" font-style="italic">y<tspan font-style="normal" font-size="13" dx="0.6" dy="-2.8">+</tspan></text>
<text x="-1.72" y="14.90" font-size="21.0">(</text>
<text x="15.65" y="14.90" font-size="21.0">)</text>
<text transform="translate(11.30,14.90) scale(1.15,1)" font-size="18.5" text-anchor="middle">a</text>
<text x="268.38" y="14.90" font-size="21.0">(</text>
<text x="285.75" y="14.90" font-size="21.0">)</text>
<text transform="translate(280.90,14.90) scale(1.15,1)" font-size="18.5" text-anchor="middle">b</text>
<text x="-1.72" y="190.60" font-size="21.0">(</text>
<text x="15.65" y="190.60" font-size="21.0">)</text>
<text transform="translate(10.90,190.60) scale(1.15,1)" font-size="18.5" text-anchor="middle">c</text>
<text x="268.38" y="190.60" font-size="21.0">(</text>
<text x="285.75" y="190.60" font-size="21.0">)</text>
<text transform="translate(280.80,190.60) scale(1.15,1)" font-size="18.5" text-anchor="middle">d</text>
<text transform="translate(28.9,100.0) rotate(-90)" font-size="16.3" font-style="italic">U<tspan font-style="normal" font-size="13" dx="0.6" dy="-3.4">+</tspan></text>
<text transform="translate(284.6,101.2) rotate(-90)" font-size="15" font-style="italic">uv<tspan font-style="normal" font-size="13" dx="1.6" dy="-4">+</tspan></text>
<line x1="276.6" y1="85.3" x2="276.6" y2="101.4" stroke="#000" stroke-width="1"/>
<text transform="translate(28.6,285.2) rotate(-90)" font-size="15" font-style="italic">u<tspan font-style="normal" font-size="9.5" dx="0.3" dy="-3.9">2</tspan><tspan font-style="normal" font-size="13" dx="1.6" dy="-3.7">+</tspan></text>
<line x1="15.0" y1="271.5" x2="15.0" y2="285.7" stroke="#000" stroke-width="1.1"/>
<text transform="translate(296.8,285.2) rotate(-90)" font-size="15" font-style="italic">v<tspan font-style="normal" font-size="9.5" dx="0.3" dy="-3.9">2</tspan><tspan font-style="normal" font-size="13" dx="1.6" dy="-3.7">+</tspan></text>
<line x1="283.2" y1="271.5" x2="283.2" y2="285.7" stroke="#000" stroke-width="1.1"/>
</svg></body></html>
